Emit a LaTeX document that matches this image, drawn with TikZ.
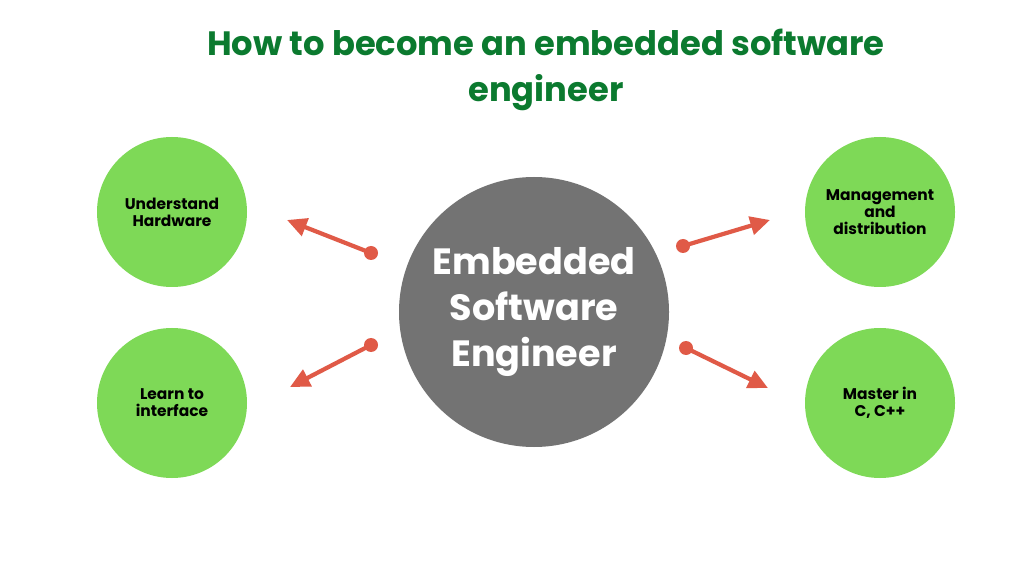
\documentclass[tikz,border=0pt]{standalone}
\usepackage{fontspec}
\setmainfont{Poppins}
\usetikzlibrary{arrows.meta}
\definecolor{titlegreen}{HTML}{0B7A2F}
\definecolor{leaf}{HTML}{7ED957}
\definecolor{hub}{HTML}{737373}
\definecolor{arrowred}{HTML}{E05A47}
\tikzset{
  sat/.style={circle,fill=leaf,minimum size=150*0.025cm,inner sep=0pt,align=center,font=\bfseries\fontsize{11}{12}\selectfont,text=black},
  dotnode/.style={circle,fill=arrowred,minimum size=14*0.025cm,inner sep=0pt},
  link/.style={arrowred,line width=3pt,-{Triangle[length=14pt,width=13pt]}}
}
\begin{document}
\begin{tikzpicture}[x=0.025cm,y=-0.025cm]
\useasboundingbox[fill=white] (0,0) rectangle (1024,576);
\node[text=titlegreen,font=\bfseries\fontsize{24}{33}\selectfont,align=center] (title) at (546,70) {How to become an embedded software\\engineer};
\node[circle,fill=hub,minimum size=270*0.025cm,inner sep=0pt,align=center,text=white,font=\bfseries\fontsize{26}{33}\selectfont] (hub) at (534,312) {Embedded\\Software\\Engineer};
\node[sat] (ul) at (172,212) {Understand\\Hardware};
\node[sat] (ll) at (172,403) {Learn to\\interface};
\node[sat] (ur) at (880,212) {Management\\and\\distribution};
\node[sat] (lr) at (880,403) {Master in\\C, C++};
\node[dotnode] (d1) at (371,253) {};
\node[dotnode] (d2) at (371,345) {};
\node[dotnode] (d3) at (683,246) {};
\node[dotnode] (d4) at (686,348) {};
\coordinate (t1) at (287,220);
\coordinate (t2) at (290,387);
\coordinate (t3) at (770,220);
\coordinate (t4) at (768,388);
\draw[link] (d1.center) -- (t1);
\draw[link] (d2.center) -- (t2);
\draw[link] (d3.center) -- (t3);
\draw[link] (d4.center) -- (t4);
\end{tikzpicture}
\end{document}
